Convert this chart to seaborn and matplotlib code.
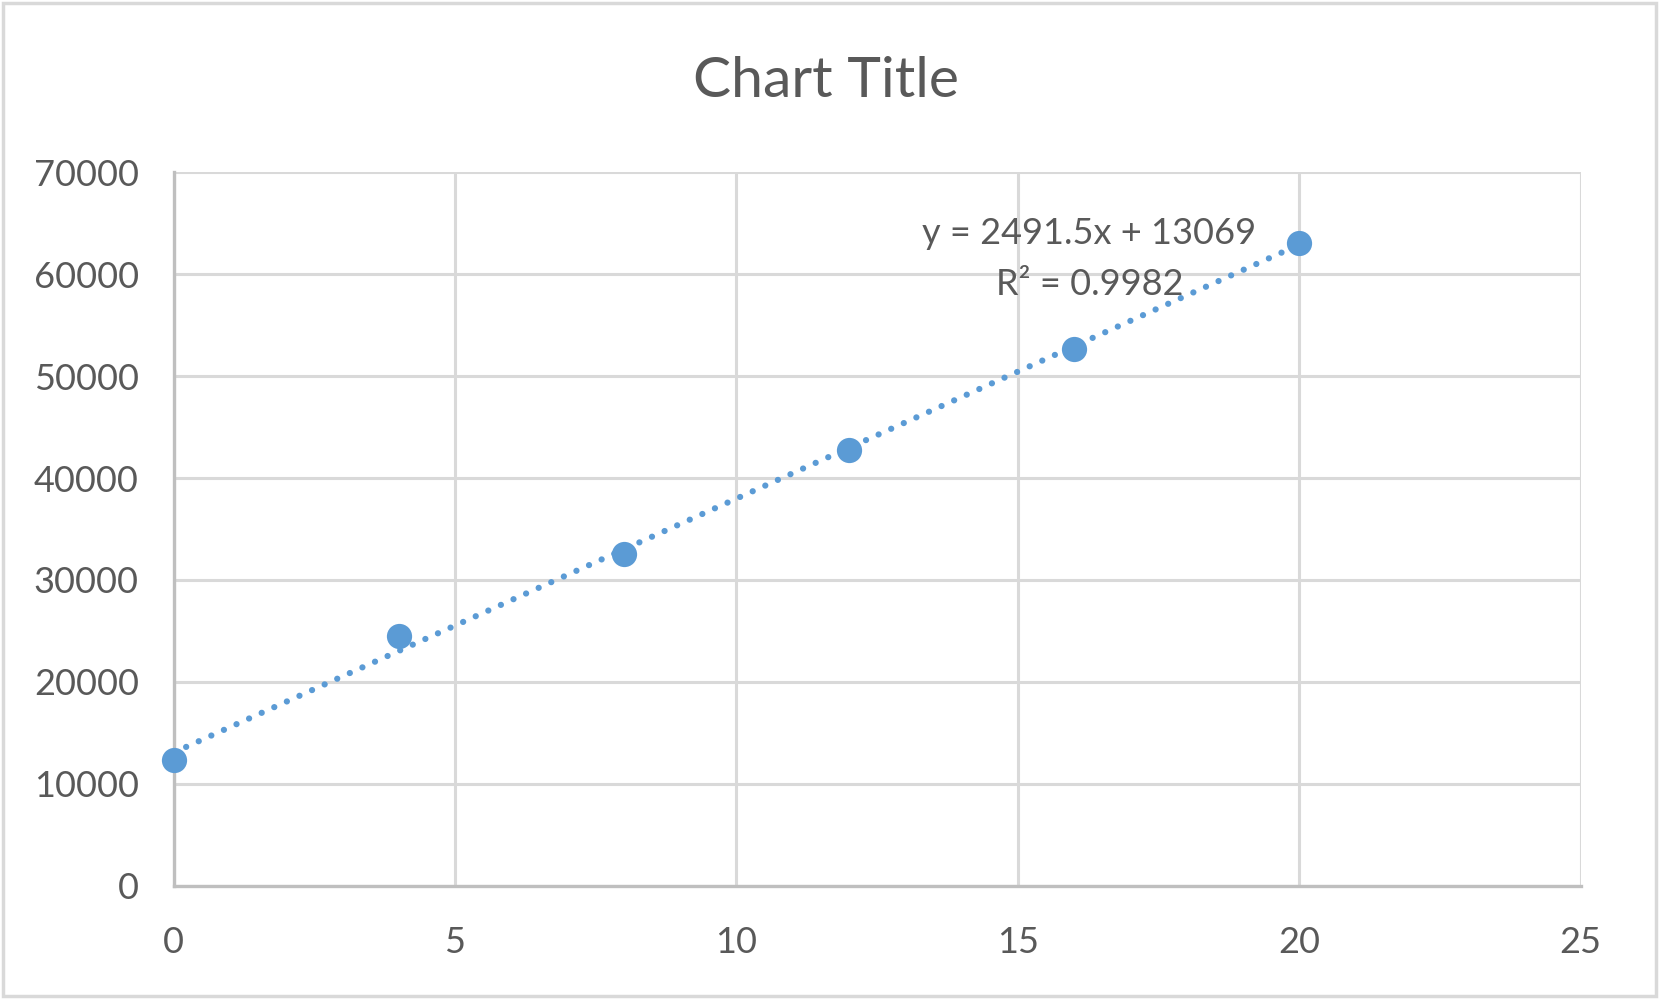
import numpy as np
import pandas as pd
import matplotlib
matplotlib.use("Agg")
import matplotlib.pyplot as plt
import seaborn as sns
from matplotlib.patches import Rectangle

# Data
x_vals = [0, 4, 8, 12, 16, 20]
y_vals = [12300, 24500, 32500, 42800, 52700, 63100]
x_ticks = [0, 5, 10, 15, 20, 25]
y_ticks = [0, 10000, 20000, 30000, 40000, 50000, 60000, 70000]
title = "Chart Title"
eq_text = "y = 2491.5x + 13069"
r2_text = "R² = 0.9982"

BLUE = "#5b9bd5"
GRID = "#d9d9d9"
TEXT = "#595959"

sns.set_theme(style="white")
plt.rcParams["font.family"] = ["Lato", "DejaVu Sans"]

df = pd.DataFrame({"x": x_vals, "y": y_vals})

fig = plt.figure(figsize=(16.59, 9.99), dpi=100)
ax = fig.add_axes([0.1046, 0.1134, 0.8482, 0.7141])

sns.regplot(data=df, x="x", y="y", ax=ax, ci=None,
            scatter_kws={"s": 330, "color": BLUE, "alpha": 1, "linewidths": 0,
                         "zorder": 3, "clip_on": False},
            line_kws={"color": BLUE, "lw": 4.5, "linestyle": (0, (0.01, 2.2)),
                      "dash_capstyle": "round", "zorder": 4})

ax.set_xlim(0, 25)
ax.set_ylim(0, 70000)
ax.set_xticks(x_ticks)
ax.set_yticks(y_ticks)
ax.set_xlabel("")
ax.set_ylabel("")
ax.grid(True, color=GRID, lw=2.2, zorder=0)
ax.set_axisbelow(True)
for side in ["top", "right"]:
    ax.spines[side].set_visible(False)
for side in ["left", "bottom"]:
    ax.spines[side].set_color("#bfbfbf")
    ax.spines[side].set_linewidth(2.4)
ax.tick_params(axis="both", length=0, labelsize=26, labelcolor=TEXT)
ax.tick_params(axis="y", pad=25)
ax.tick_params(axis="x", pad=29)

fig.text(0.4979, 0.918, title, ha="center", va="center", fontsize=41, color=TEXT)

ax.text(16.27, 64000, eq_text, ha="center", va="center", fontsize=26, color=TEXT, zorder=5)
ax.text(16.27, 59000, r2_text, ha="center", va="center", fontsize=26, color=TEXT, zorder=5)

fig.patches.append(Rectangle((0.002, 0.003), 0.996, 0.994, transform=fig.transFigure,
                             fill=False, edgecolor=GRID, lw=2.5))

fig.savefig("out.png", dpi=100, facecolor="white")
